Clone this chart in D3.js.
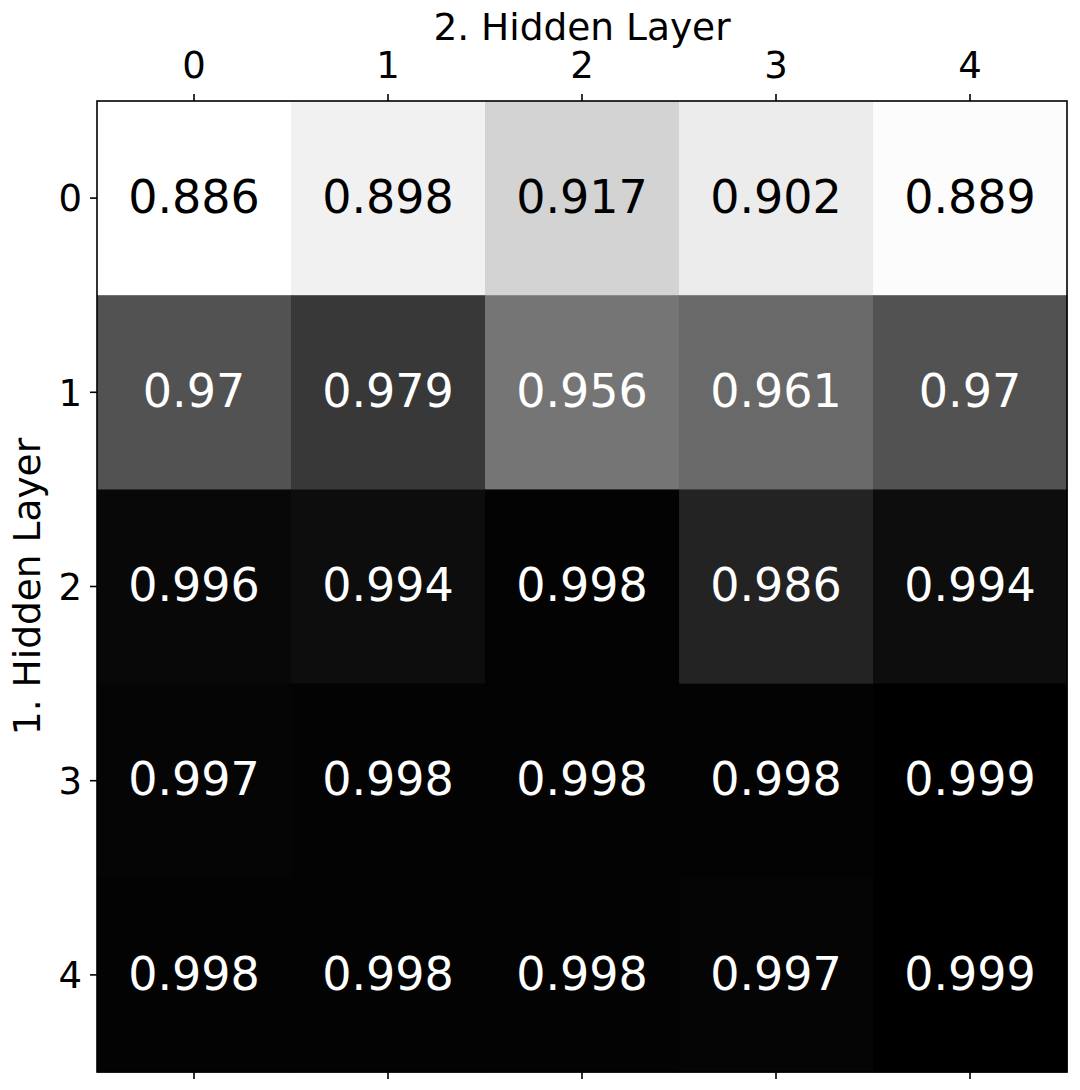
<!DOCTYPE html>
<html>
  <head>
    <script type="text/javascript" src="https://cdn.jsdelivr.net/npm/d3@7"></script>
    <style>
      body { margin: 0; background: #fff; }
      text { font-family: "DejaVu Sans", sans-serif; }
    </style>
  </head>
<body>
  <script type="text/javascript">
    var w = 1080;
    var h = 1090;
    var margin = {
      top: 101,
      bottom: 18,
      right: 13,
      left: 97
    };

    // 1. hidden layer (rows) x 2. hidden layer (columns)
    var rowLabels = ["0", "1", "2", "3", "4"];
    var colLabels = ["0", "1", "2", "3", "4"];
    var row0 = [0.886, 0.898, 0.917, 0.902, 0.889];
    var row1 = [0.97, 0.979, 0.956, 0.961, 0.97];
    var row2 = [0.996, 0.994, 0.998, 0.986, 0.994];
    var row3 = [0.997, 0.998, 0.998, 0.998, 0.999];
    var row4 = [0.998, 0.998, 0.998, 0.997, 0.999];
    var xTitle = "2. Hidden Layer";
    var yTitle = "1. Hidden Layer";

    var grid = [row0, row1, row2, row3, row4];
    var cells = [];
    grid.forEach(function (r, i) {
      r.forEach(function (v, j) {
        cells.push({row: rowLabels[i], col: colLabels[j], value: v});
      });
    });

    var xScale = d3.scaleBand()
      .domain(colLabels)
      .range([margin.left, w - margin.right]);

    var yScale = d3.scaleBand()
      .domain(rowLabels)
      .range([margin.top, h - margin.bottom]);

    var norm = d3.scaleLinear()
      .domain(d3.extent(cells, function (d) { return d.value; }))
      .range([0, 1]);

    var svg = d3.select("body")
      .append("svg")
      .attr("width", w)
      .attr("height", h);

    svg.selectAll("rect.cell")
      .data(cells)
      .enter()
      .append("rect")
      .attr("class", "cell")
      .attr("x", function (d) { return xScale(d.col); })
      .attr("y", function (d) { return yScale(d.row); })
      .attr("width", xScale.bandwidth() + 0.5)
      .attr("height", yScale.bandwidth() + 0.5)
      .attr("fill", function (d) { return d3.interpolateGreys(norm(d.value)); });

    svg.selectAll("text.cell")
      .data(cells)
      .enter()
      .append("text")
      .attr("class", "cell")
      .attr("x", function (d) { return xScale(d.col) + xScale.bandwidth() / 2; })
      .attr("y", function (d) { return yScale(d.row) + yScale.bandwidth() / 2; })
      .attr("dy", "0.32em")
      .attr("text-anchor", "middle")
      .attr("font-size", 46)
      .attr("fill", function (d) { return norm(d.value) > 0.5 ? "#fff" : "#000"; })
      .text(function (d) { return String(+d.value.toFixed(3)); });

    // frame
    svg.append("rect")
      .attr("x", margin.left)
      .attr("y", margin.top)
      .attr("width", w - margin.left - margin.right)
      .attr("height", h - margin.top - margin.bottom)
      .attr("fill", "none")
      .attr("stroke", "#000")
      .attr("stroke-width", 1.6);

    var topAxis = svg.append("g")
      .attr("transform", "translate(0," + margin.top + ")")
      .call(d3.axisTop(xScale).tickSize(7).tickPadding(16));

    var bottomAxis = svg.append("g")
      .attr("transform", "translate(0," + (h - margin.bottom) + ")")
      .call(d3.axisBottom(xScale).tickSize(7).tickFormat(""));

    var leftAxis = svg.append("g")
      .attr("transform", "translate(" + margin.left + ",0)")
      .call(d3.axisLeft(yScale).tickSize(7).tickPadding(8));

    [topAxis, bottomAxis, leftAxis].forEach(function (a) {
      a.select(".domain").remove();
      a.selectAll(".tick line").attr("stroke", "#000").attr("stroke-width", 1.6);
      a.selectAll(".tick text")
        .attr("fill", "#000")
        .attr("font-size", 37)
        .attr("font-family", "DejaVu Sans");
    });
    leftAxis.selectAll(".tick text").attr("dy", "0.36em");

    svg.append("text")
      .attr("x", (margin.left + w - margin.right) / 2)
      .attr("y", 40)
      .attr("text-anchor", "middle")
      .attr("font-size", 37.5)
      .attr("fill", "#000")
      .text(xTitle);

    svg.append("text")
      .attr("transform", "translate(40," + ((margin.top + h - margin.bottom) / 2) + ") rotate(-90)")
      .attr("text-anchor", "middle")
      .attr("font-size", 37.5)
      .attr("fill", "#000")
      .text(yTitle);
  </script>
  </body>
</html>
